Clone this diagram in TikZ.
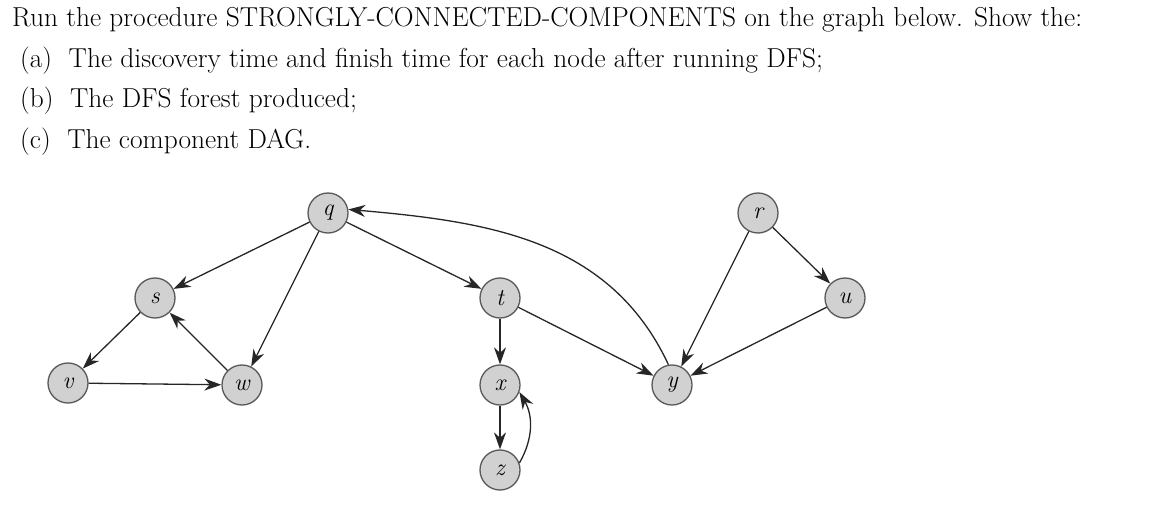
\documentclass[tikz,border=0pt]{standalone}
\usetikzlibrary{arrows.meta}
\begin{document}
\begin{tikzpicture}[x=1pt,y=-1pt,
  vtx/.style={circle,draw=black!65,line width=1.3pt,fill=black!18,minimum size=40pt,inner sep=0pt,font=\fontsize{24}{24}\selectfont\itshape},
  arr/.style={line width=1.3pt,draw=black!85,-{Stealth[length=17pt,width=12pt]}},
  txt/.style={anchor=base west,inner sep=0pt,font=\fontsize{27.4}{30}\selectfont}]
\useasboundingbox (0,0) rectangle (1170,529);
\node[txt] (l0) at (12,27) {Run the procedure STRONGLY-CONNECTED-COMPONENTS on the graph below. Show the:};
\node[txt] (l1) at (20,68) {(a)\ \ The discovery time and finish time for each node after running DFS;};
\node[txt] (l2) at (20,108) {(b)\ \ The DFS forest produced;};
\node[txt] (l3) at (20,149) {(c)\ \ The component DAG.};
\node[vtx] (q) at (328,213) {q};
\node[vtx] (r) at (758,213) {r};
\node[vtx] (s) at (155,298) {s};
\node[vtx] (t) at (500,298) {t};
\node[vtx] (u) at (845,298) {u};
\node[vtx] (v) at (68,383) {v};
\node[vtx] (w) at (242,385) {w};
\node[vtx] (x) at (500,385) {x};
\node[vtx] (y) at (672,385) {y};
\node[vtx] (z) at (500,470) {z};
\draw[arr] (q) -- (s);
\draw[arr] (q) -- (w);
\draw[arr] (q) -- (t);
\draw[arr] (y.100) to[out=115,in=-5,looseness=1.0] (q.10);
\draw[arr] (t) -- (y);
\draw[arr] (t) -- (x);
\draw[arr] (x) -- (z);
\draw[arr] (z.20) to[out=60,in=-60] (x.-20);
\draw[arr] (s) -- (v);
\draw[arr] (v) -- (w);
\draw[arr] (w) -- (s);
\draw[arr] (r) -- (y);
\draw[arr] (r) -- (u);
\draw[arr] (u) -- (y);
\end{tikzpicture}
\end{document}
